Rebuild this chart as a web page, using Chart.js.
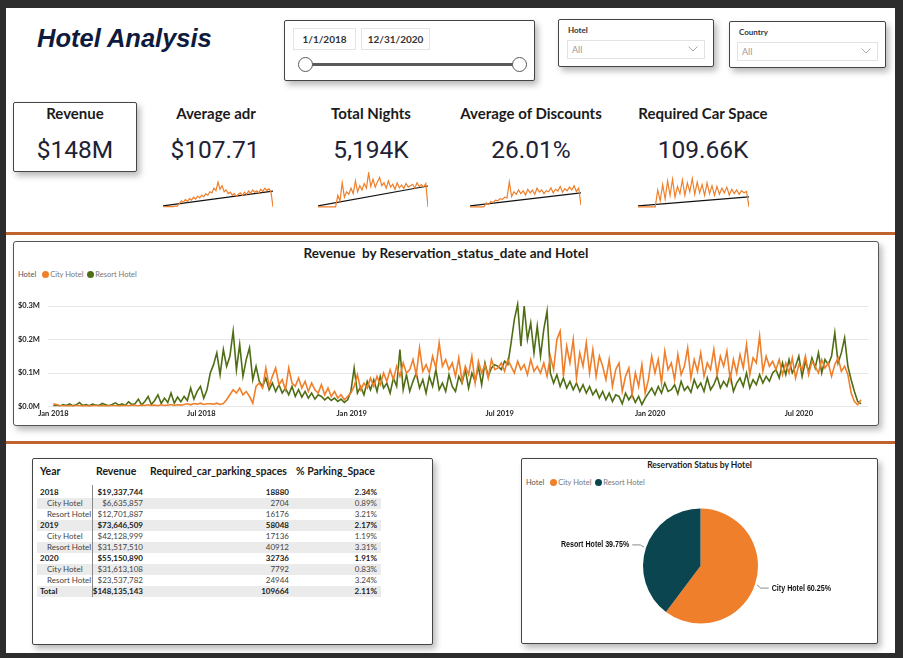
<!DOCTYPE html>
<html><head><meta charset="utf-8">
<script src="https://cdn.jsdelivr.net/npm/chart.js@4.4.0/dist/chart.umd.min.js"></script>
<style>
html,body{margin:0;padding:0;}
body{width:903px;height:658px;background:#2d2d2d;position:relative;overflow:hidden;font-family:Lato,'Open Sans',sans-serif;color:#252423;}
.a{position:absolute;box-sizing:border-box;}
#page{left:6px;top:8px;width:889px;height:645px;background:#fff;}
.card{border:1.5px solid #444;border-radius:2px;background:#fff;box-shadow:3px 4px 6px rgba(0,0,0,0.28);}
.sep{left:6px;width:889px;height:2.5px;background:#c0642f;}
.kh{width:220px;text-align:center;font-weight:700;font-size:15px;line-height:18px;top:104px;color:#1b1b1b;}
.kv{width:220px;text-align:center;font-family:Roboto,sans-serif;font-size:24.5px;line-height:30px;top:135px;color:#1e2236;}
.datebox{top:28px;height:22px;border:1px solid #e4e4e4;font-size:10px;font-weight:700;line-height:20px;text-align:center;color:#333;}
.knob{width:15px;height:15px;border:1.5px solid #5a5a5a;border-radius:50%;background:#fff;top:56.5px;}
.slab{font-size:8px;font-weight:700;color:#333;}
.dd{height:19px;border:1px solid #e3e3e3;font-size:9px;color:#9a9a9a;line-height:17px;padding-left:4px;}
.leg{font-size:7.5px;color:#777;line-height:10px;white-space:nowrap;}
.leg b{font-weight:400;color:#555;}
.dot{display:inline-block;width:7px;height:7px;border-radius:50%;vertical-align:-1px;margin:0 1px 0 4px;}
.row{left:37px;width:344px;height:11px;font-size:8px;line-height:11px;}
.row span{position:absolute;top:0;white-space:nowrap;}
.th{font-size:10.5px;font-weight:700;top:465px;line-height:12px;white-space:nowrap;color:#1b1b1b;}
</style></head>
<body>
<div id="page" class="a"></div>

<div class="a" style="left:37px;top:23px;font-family:'Liberation Sans',Arial,sans-serif;font-style:italic;font-weight:700;font-size:25.5px;line-height:30px;color:#0f1b3d;">Hotel Analysis</div>

<!-- date slicer -->
<div class="a card" style="left:284px;top:20px;width:251px;height:61px;"></div>
<div class="a datebox" style="left:293px;width:63px;">1/1/2018</div>
<div class="a datebox" style="left:361px;width:69px;">12/31/2020</div>
<div class="a" style="left:305px;top:62.5px;width:214px;height:3px;background:#5a5a5a;"></div>
<div class="a knob" style="left:297.5px;"></div>
<div class="a knob" style="left:511.5px;"></div>

<!-- hotel slicer -->
<div class="a card" style="left:558px;top:19px;width:156px;height:48px;"></div>
<div class="a slab" style="left:568px;top:25px;">Hotel</div>
<div class="a dd" style="left:567px;top:40px;width:138px;">All
<svg class="a" style="right:6px;top:5px" width="10" height="6"><polyline points="0.5,0.5 5,5 9.5,0.5" fill="none" stroke="#aaa" stroke-width="1"/></svg></div>

<!-- country slicer -->
<div class="a card" style="left:729px;top:21px;width:157px;height:47px;"></div>
<div class="a slab" style="left:739px;top:27px;">Country</div>
<div class="a dd" style="left:737px;top:42px;width:141px;">All
<svg class="a" style="right:6px;top:5px" width="10" height="6"><polyline points="0.5,0.5 5,5 9.5,0.5" fill="none" stroke="#aaa" stroke-width="1"/></svg></div>

<!-- KPI -->
<div class="a card" style="left:13px;top:102px;width:124px;height:70px;"></div>
<div class="a kh" style="left:-35px;">Revenue</div>
<div class="a kv" style="left:-35px;">$148M</div>
<div class="a kh" style="left:106px;">Average adr</div>
<div class="a kv" style="left:105px;">$107.71</div>
<div class="a kh" style="left:261px;">Total Nights</div>
<div class="a kv" style="left:261px;">5,194K</div>
<div class="a kh" style="left:421px;">Average of Discounts</div>
<div class="a kv" style="left:421px;">26.01%</div>
<div class="a kh" style="left:593px;">Required Car Space</div>
<div class="a kv" style="left:593px;">109.66K</div>
<canvas id="sp0" class="a" width="110" height="36" style="left:163px;top:172px;"></canvas>
<canvas id="sp1" class="a" width="110" height="36" style="left:318px;top:172px;"></canvas>
<canvas id="sp2" class="a" width="111" height="36" style="left:470px;top:172px;"></canvas>
<canvas id="sp3" class="a" width="111" height="36" style="left:638px;top:172px;"></canvas>

<div class="a sep" style="top:232px;"></div>

<!-- line chart -->
<div class="a card" style="left:13px;top:241px;width:866px;height:185px;border-color:#555;border-radius:3px;"></div>
<div class="a" style="left:13px;width:866px;top:244px;text-align:center;font-weight:700;font-size:13.5px;line-height:18px;color:#1b1b1b;">Revenue&nbsp; by Reservation_status_date and Hotel</div>
<div class="a leg" style="left:18px;top:269.5px;"><b>Hotel</b> <span class="dot" style="background:#ef7f2a"></span>City Hotel <span class="dot" style="background:#4f6e14;margin-left:2px"></span>Resort Hotel</div>
<canvas id="line" class="a" width="866" height="185" style="left:13px;top:241px;"></canvas>

<div class="a sep" style="top:441px;"></div>

<!-- table -->
<div class="a card" style="left:32px;top:458px;width:401px;height:187px;"></div>
<div class="a th" style="left:40px;">Year</div>
<div class="a th" style="left:96px;">Revenue</div>
<div class="a th" style="left:150px;">Required_car_parking_spaces</div>
<div class="a th" style="left:296px;">% Parking_Space</div>
<div id="tbody"></div>
<div class="a" style="left:91.5px;top:485px;width:1px;height:112px;background:#888;"></div>

<!-- pie -->
<div class="a card" style="left:521px;top:458px;width:357px;height:186px;"></div>
<div class="a" style="left:521px;width:357px;top:459px;text-align:center;font-weight:700;font-size:8.5px;line-height:12px;color:#1b1b1b;">Reservation Status by Hotel</div>
<div class="a leg" style="left:526px;top:478px;"><b>Hotel</b> <span class="dot" style="background:#ef7f2a"></span>City Hotel <span class="dot" style="background:#0b4650;margin-left:2px"></span>Resort Hotel</div>
<canvas id="pie" class="a" width="357" height="186" style="left:521px;top:458px;"></canvas>

<script>
// ---------- data ----------
const hotels = ['City Hotel','Resort Hotel'];
const stepDays = 4; // one value every 4 days from 1 Jan 2018
// City Hotel revenue (thousands $)
const cityRevenue = [
 8,6,3,2,1,2,1,3,2,1,2,1,2,3,1,2,1,2,3,2,1,2,3,2,4,
 3,2,4,3,5,3,4,2,5,3,4,6,3,5,4,
 6,8,5,9,7,10,6,8,
 8,7,10,6,9,20,35,50,40,55,35,45,30,10,60,
 70,55,115,60,90,115,65,80,50,115,70,60,85,55,75,45,70,50,40,65,35,55,30,45,25,35,20,30,
 40,60,95,50,70,55,85,60,90,65,100,75,110,80,120,90,130,100,110,140,95,175,105,125,100,150,115,190,120,140,110,
 130,90,145,75,120,95,150,70,135,100,125,85,140,110,
 115,130,105,140,120,100,135,110,125,95,140,105,120,100,130,90,
 150,110,200,225,90,180,130,200,85,160,120,190,100,
 170,90,150,120,80,140,60,110,130,45,90,115,35,100,60,125,40,80,
 150,100,140,70,165,110,130,80,155,95,120,175,85,140,105,160,90,130,110,170,95,150,120,165,80,140,100,155,115,185,95,145,130,210,105,150,120,135,
 110,140,95,130,100,145,85,125,110,150,95,135,120,100,140,115,130,90,125,145,105,120,95,
 40,15,5,20];
// Resort Hotel revenue (thousands $)
const resortRevenue = [
 2,4,1,6,3,8,2,5,12,3,6,2,7,4,3,9,5,2,6,11,4,8,3,14,6,
 8,22,5,15,30,6,18,35,9,25,12,40,10,28,14,
 30,18,55,22,45,60,25,50,
 100,125,160,95,170,120,150,225,110,185,90,140,175,80,120,
 75,60,85,50,70,45,65,40,55,35,60,30,50,28,45,25,40,22,35,30,20,28,18,25,15,22,12,20,
 45,115,40,60,35,75,50,80,45,90,55,70,40,85,60,170,50,95,45,75,100,55,80,40,90,60,110,50,70,45,95,
 60,45,90,70,110,55,100,75,120,65,130,90,115,125,
 120,110,135,125,190,260,305,180,300,200,250,160,240,150,230,285,
 100,70,95,60,85,55,75,50,70,45,65,40,60,
 35,50,25,45,20,40,15,35,30,8,40,20,35,12,30,6,25,40,
 55,35,60,40,70,45,50,65,38,75,48,60,42,80,55,70,45,85,50,65,90,55,75,60,95,45,70,85,60,100,55,80,65,95,70,90,75,100,
 110,85,130,95,140,100,120,150,90,135,105,145,115,160,100,140,125,150,220,130,160,205,120,
 80,45,15,8];
const xTickDays = [0,181,365,546,730,912];
const xTickLabels = ['Jan 2018','Jul 2018','Jan 2019','Jul 2019','Jan 2020','Jul 2020'];
const yTicks = [0,100,200,300];

// KPI sparklines (relative 0-100)
const sparkAdr = [4,4,4,4,4,4,5,5,12,20,16,24,18,26,22,30,25,33,28,36,31,40,35,45,42,55,48,72,52,62,45,50,40,44,36,40,33,38,42,35,44,38,47,41,50,44,48,42,52,46,55,49,53,45,3];
const sparkNights = [3,3,3,3,3,3,3,3,3,35,20,70,30,45,38,55,40,75,45,62,50,68,55,97,60,80,58,72,85,62,70,55,75,58,66,52,70,56,64,54,68,58,62,66,55,70,60,65,58,68,3];
const sparkDiscount = [3,3,3,3,3,3,3,14,10,18,15,22,20,26,24,30,28,72,32,45,38,50,40,48,36,52,42,50,38,55,44,50,40,48,45,56,42,52,47,60,44,54,48,58,50,62,46,55,8];
const sparkCar = [3,3,3,3,3,3,3,3,50,20,65,25,75,35,80,30,60,40,78,35,70,45,82,38,72,42,65,35,70,40,62,35,60,38,55,42,58,36,52,40,50,38,48,42,46,3];
const trendAdr = [6,47];
const trendNights = [6,61];
const trendDiscount = [6,42];
const trendCar = [6,31];

// table
const tableLabels = ['2018','City Hotel','Resort Hotel','2019','City Hotel','Resort Hotel','2020','City Hotel','Resort Hotel','Total'];
const tableRevenue = [19337744,6635857,12701887,73646509,42128999,31517510,55150890,31613108,23537782,148135143];
const tableParking = [18880,2704,16176,58048,17136,40912,32736,7792,24944,109664];
const tablePct = [2.34,0.89,3.21,2.17,1.19,3.31,1.91,0.83,3.24,2.11];
const tableIsSub = [0,1,1,0,1,1,0,1,1,0];

// pie
const pieShares = [60.25,39.75];

const ORANGE = '#ef7f2a', GREEN = '#4f6e14', TEAL = '#0b4650';

// ---------- table ----------
(function(){
  const tb = document.getElementById('tbody');
  let html = '';
  tableLabels.forEach((lab,i)=>{
    const top = 486.5 + i*11;
    const sub = tableIsSub[i];
    const bg = (i%2===1) ? 'background:#ebebeb;' : '';
    const st = sub ? 'color:#444;font-weight:400;' : 'color:#1b1b1b;font-weight:700;';
    html += `<div class="a row" style="top:${top}px;${bg}${st}">`+
      `<span style="left:${sub?10:3}px">${lab}</span>`+
      `<span style="right:238px">$${tableRevenue[i].toLocaleString('en-US')}</span>`+
      `<span style="right:92px">${tableParking[i]}</span>`+
      `<span style="right:4px">${tablePct[i].toFixed(2)}%</span></div>`;
  });
  tb.innerHTML = html;
})();

Chart.defaults.font.family = "Lato, 'Open Sans', sans-serif";
Chart.defaults.animation = false;

// ---------- line chart ----------
const pts = arr => arr.map((v,i)=>({x:i*stepDays, y:v}));
new Chart(document.getElementById('line'),{
  type:'line',
  data:{datasets:[
    {label:hotels[0],data:pts(cityRevenue),borderColor:ORANGE,borderWidth:1.6,pointRadius:0,tension:0},
    {label:hotels[1],data:pts(resortRevenue),borderColor:GREEN,borderWidth:1.6,pointRadius:0,tension:0}
  ]},
  options:{
    responsive:false,devicePixelRatio:1,
    layout:{padding:{left:5,right:11,top:58.3,bottom:0}},
    plugins:{legend:{display:false},tooltip:{enabled:false}},
    scales:{
      x:{type:'linear',min:-6.5,max:996.6,
        afterBuildTicks:s=>{s.ticks = xTickDays.map(v=>({value:v}));},
        afterFit:s=>{s.height=19.5;},
        grid:{display:false,drawTicks:false},border:{display:false},
        ticks:{autoSkip:false,maxRotation:0,padding:3,color:'#252423',font:{size:7.5,weight:'bold'},
          callback:v=>xTickLabels[xTickDays.indexOf(v)]}},
      y:{min:0,max:320,
        afterBuildTicks:s=>{s.ticks = yTicks.map(v=>({value:v}));},
        afterFit:s=>{s.width=30;},
        grid:{color:'#e6e6e6',lineWidth:1,drawTicks:false},border:{display:false},
        ticks:{crossAlign:'far',padding:0,color:'#252423',font:{size:7.5,weight:'bold'},
          callback:v=>'$'+(v/1000).toFixed(1)+'M'}}
    }
  }
});

// ---------- sparklines ----------
function spark(id, arr, trend){
  const n = arr.length;
  new Chart(document.getElementById(id),{
    type:'line',
    data:{datasets:[
      {data:arr.map((v,i)=>({x:i,y:v})),borderColor:ORANGE,borderWidth:1.2,pointRadius:0,tension:0},
      {data:[{x:0,y:trend[0]},{x:n-1,y:trend[1]}],borderColor:'#111',borderWidth:1.1,pointRadius:0}
    ]},
    options:{responsive:false,devicePixelRatio:1,layout:{padding:0},
      plugins:{legend:{display:false},tooltip:{enabled:false}},
      scales:{x:{type:'linear',min:0,max:n-1,display:false},y:{min:0,max:100,display:false}}}
  });
}
spark('sp0',sparkAdr,trendAdr);
spark('sp1',sparkNights,trendNights);
spark('sp2',sparkDiscount,trendDiscount);
spark('sp3',sparkCar,trendCar);

// ---------- pie ----------
const pieLabelPlugin = {
  id:'pieLabels',
  afterDatasetsDraw(chart){
    const ctx = chart.ctx;
    const meta = chart.getDatasetMeta(0);
    ctx.save();
    ctx.font = "bold 9px 'Liberation Sans', Arial, sans-serif";
    ctx.textBaseline = 'middle';
    meta.data.forEach((arc,i)=>{
      const mid = (arc.startAngle+arc.endAngle)/2;
      const r = arc.outerRadius;
      const c = Math.cos(mid), s = Math.sin(mid);
      const x0 = arc.x + c*(r+2), y0 = arc.y + s*(r+2);
      const x1 = arc.x + c*(r+6), y1 = arc.y + s*(r+6) + (s>0?2:-1);
      const right = c >= 0;
      const x2 = x1 + (right?8:-8);
      ctx.strokeStyle = '#8a8a8a'; ctx.lineWidth = 1;
      ctx.beginPath(); ctx.moveTo(x0,y0); ctx.lineTo(x1,y1); ctx.lineTo(x2,y1); ctx.stroke();
      ctx.fillStyle = '#111';
      const txt = chart.data.labels[i] + ' ' + chart.data.datasets[0].data[i].toFixed(2) + '%';
      const tx = x2 + (right?3:-3);
      ctx.save();
      ctx.translate(tx, y1);
      ctx.scale(0.79, 1);
      ctx.textAlign = right ? 'left' : 'right';
      ctx.fillText(txt, 0, 0);
      ctx.restore();
    });
    ctx.restore();
  }
};
new Chart(document.getElementById('pie'),{
  type:'pie',
  data:{labels:hotels,datasets:[{data:pieShares,backgroundColor:[ORANGE,TEAL],borderWidth:0,hoverOffset:0,offset:0}]},
  options:{responsive:false,devicePixelRatio:1,
    layout:{padding:{left:122,right:120,top:50.5,bottom:20.5}},
    plugins:{legend:{display:false},tooltip:{enabled:false}}},
  plugins:[pieLabelPlugin]
});
</script>
</body></html>
